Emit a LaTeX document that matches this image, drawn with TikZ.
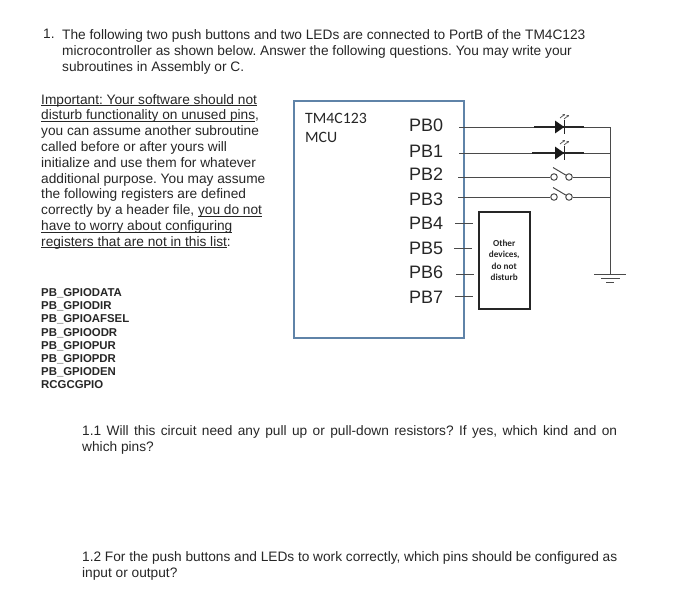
\documentclass[tikz,border=0pt]{standalone}
\usepackage{fontspec}
\setmainfont{Liberation Sans}
\newfontfamily\calibrifont{Carlito}
\newcommand{\undertext}[1]{\setbox0\hbox{#1}\rlap{\rule[-1.7pt]{\wd0}{0.7pt}}\box0}
\definecolor{mcublue}{HTML}{5F83A8}
\definecolor{inkgray}{HTML}{262626}
\definecolor{wiregray}{HTML}{4A4A4A}
\tikzset{
	body/.style={inkgray, anchor=north west, inner sep=0pt, align=left, font=\fontsize{13.7}{16}\selectfont\frenchspacing},
	regs/.style={inkgray, anchor=north west, inner sep=0pt, align=left, font=\fontsize{11.4}{13.15}\selectfont\bfseries},
	pinlabel/.style={inkgray, anchor=west, inner sep=0pt, font=\fontsize{18}{18}\selectfont},
	mculabel/.style={inkgray, anchor=west, inner sep=0pt, font=\calibrifont\fontsize{15.8}{15.8}\selectfont},
	wire/.style={draw=wiregray, line width=1pt},
	lead/.style={draw=black!85, line width=1.8pt},
	diodetri/.style={fill=black!90, isosceles triangle, isosceles triangle apex angle=70, inner sep=0pt, minimum height=9pt, minimum width=12pt},
	contact/.style={draw=wiregray, fill=white, circle, line width=1pt, inner sep=0pt, minimum size=6.5pt},
	ray/.style={draw=wiregray, line width=0.7pt, -{Stealth[length=2.5pt,width=2.5pt]}}
}
\usetikzlibrary{shapes.geometric, arrows.meta}
\begin{document}
\begin{tikzpicture}[x=1pt, y=-1pt]
	\useasboundingbox (0, 0) rectangle (700, 605);
	\node[body] (Q1num)at(43, 29) {1.};
	\node[body] (Q1)at(62, 29) {The following two push buttons and two LEDs are connected to PortB of the TM4C123\\microcontroller as shown below. Answer the following questions. You may write your\\subroutines in Assembly or C.};
	\node[body, font=\fontsize{13.7}{15.8}\selectfont\frenchspacing] (Note)at(41, 94) {\undertext{Important: Your software should not}\\\undertext{disturb functionality on unused pins},\\you can assume another subroutine\\called before or after yours will\\initialize and use them for whatever\\additional purpose. You may assume\\the following registers are defined\\correctly by a header file, \undertext{you do not}\\\undertext{have to worry about configuring}\\\undertext{registers that are not in this list}:};
	\node[regs] (Regs)at(41, 288.5) {PB\_GPIODATA\\PB\_GPIODIR\\PB\_GPIOAFSEL\\PB\_GPIOODR\\PB\_GPIOPUR\\PB\_GPIOPDR\\PB\_GPIODEN\\RCGCGPIO};
	\node[body, text width=535pt, align=justify] (Q11)at(82, 425) {1.1 Will this circuit need any pull up or pull-down resistors? If yes, which kind and on\linebreak which pins?};
	\node[body, text width=535pt, align=justify] (Q12)at(82, 551.5) {1.2 For the push buttons and LEDs to work correctly, which pins should be configured as\linebreak input or output?};
	\node[draw=mcublue, line width=1.5pt, anchor=north west, inner sep=0pt, minimum width=170pt, minimum height=237pt] (MCU)at(293, 100) {};
	\node[mculabel] (Name)at(305, 118) {TM4C123};
	\node[mculabel] (Kind)at(305, 137) {MCU};
	\node[pinlabel] (PB0)at(409, 125) {PB0};
	\node[pinlabel] (PB1)at(409, 151) {PB1};
	\node[pinlabel] (PB2)at(409, 174.5) {PB2};
	\node[pinlabel] (PB3)at(409, 199) {PB3};
	\node[pinlabel] (PB4)at(409, 223) {PB4};
	\node[pinlabel] (PB5)at(409, 248) {PB5};
	\node[pinlabel] (PB6)at(409, 272.5) {PB6};
	\node[pinlabel] (PB7)at(409, 297) {PB7};
	\node[draw=black!85, line width=1.5pt, anchor=north west, inner sep=0pt, minimum width=51pt, minimum height=97pt, align=center, font=\calibrifont\fontsize{9.2}{11.2}\selectfont\bfseries, inkgray] (Other)at(478, 211) {Other\\devices,\\do not\\disturb};
	\coordinate (W0)at(459, 127);
	\coordinate (W1)at(459, 153);
	\coordinate (W2)at(458, 177);
	\coordinate (W3)at(458, 197);
	\coordinate (R0)at(610, 127);
	\coordinate (R1)at(610, 153);
	\coordinate (R2)at(610, 177);
	\coordinate (R3)at(610, 197);
	\coordinate (GND)at(610, 274);
	\draw[wire] (W0) -- (R0);
	\draw[wire] (W1) -- (R1);
	\draw[wire] (R0) -- (GND);
	\coordinate (L0a)at(534, 127);
	\coordinate (L0b)at(584, 127);
	\coordinate (L1a)at(532, 153);
	\coordinate (L1b)at(584, 153);
	\draw[lead] (L0a) -- (L0b);
	\draw[lead] (L1a) -- (L1b);
	\node[diodetri] (D0)at(558.5, 127) {};
	\node[diodetri] (D1)at(558.5, 153) {};
	\draw[lead, line width=1pt] (564, 120) -- (564, 134);
	\draw[lead, line width=1pt] (564, 146) -- (564, 160);
	\draw[ray] (560, 118) -- (565, 114);
	\draw[ray] (564, 119) -- (569, 115);
	\draw[ray] (560, 144) -- (565, 140);
	\draw[ray] (564, 145) -- (569, 141);
	\node[contact] (S2a)at(554, 177) {};
	\node[contact] (S2b)at(569, 177) {};
	\node[contact] (S3a)at(554, 197) {};
	\node[contact] (S3b)at(569, 197) {};
	\coordinate (A2)at(553, 167.5);
	\coordinate (A3)at(553, 187.5);
	\draw[wire] (W2) -- (S2a);
	\draw[wire] (S2b) -- (R2);
	\draw[wire] (W3) -- (S3a);
	\draw[wire] (S3b) -- (R3);
	\draw[wire] (A2) -- (S2b);
	\draw[wire] (A3) -- (S3b);
	\coordinate (G1a)at(594, 274);
	\coordinate (G1b)at(626, 274);
	\coordinate (G2a)at(601, 278);
	\coordinate (G2b)at(620, 278);
	\coordinate (G3a)at(606, 282.5);
	\coordinate (G3b)at(614, 282.5);
	\draw[wire] (G1a) -- (G1b);
	\draw[wire] (G2a) -- (G2b);
	\draw[wire] (G3a) -- (G3b);
	\coordinate (T4a)at(455, 223);
	\coordinate (T4b)at(473, 223);
	\coordinate (T5a)at(454, 248);
	\coordinate (T5b)at(472, 248);
	\coordinate (T6a)at(456, 274);
	\coordinate (T6b)at(474, 274);
	\coordinate (T7a)at(455, 296);
	\coordinate (T7b)at(473, 296);
	\draw[wire] (T4a) -- (T4b);
	\draw[wire] (T5a) -- (T5b);
	\draw[wire] (T6a) -- (T6b);
	\draw[wire] (T7a) -- (T7b);
\end{tikzpicture}
\end{document}
